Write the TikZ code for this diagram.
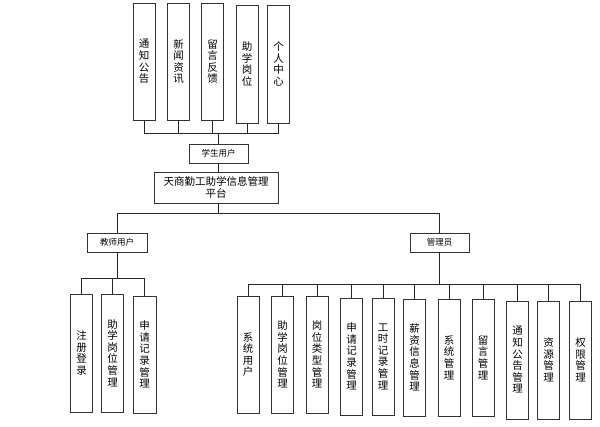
\documentclass[tikz,border=0pt]{standalone}
\usepackage{fontspec}
\newfontfamily\cjk{Noto Sans CJK SC}
\begin{document}
\begin{tikzpicture}[x=1pt,y=-1pt,
  vbox/.style={draw=black!80,line width=0.8pt,minimum width=22pt,minimum height=117pt,inner sep=0pt,align=center,font=\cjk\fontsize{10.5}{11.6}\selectfont},
  hbox/.style={draw=black!80,line width=0.8pt,inner sep=0pt,align=center,font=\cjk\fontsize{8.5}{10}\selectfont},
  conn/.style={draw=black!85,line width=0.8pt}]
\useasboundingbox (0,0) rectangle (600,427);
% top row
\node[vbox] (t1) at (144,61.5) {通\\知\\公\\告};
\node[vbox] (t2) at (178.5,61.5) {新\\闻\\资\\讯};
\node[vbox] (t3) at (212.5,61.5) {留\\言\\反\\馈};
\node[vbox,minimum height=118pt] (t4) at (247,64) {助\\学\\岗\\位};
\node[vbox,minimum height=118pt] (t5) at (278.5,64) {个\\人\\中\\心};
\coordinate (tbar) at (0,133);
\node[hbox,minimum width=59pt,minimum height=19pt] (stu) at (218.5,153.5) {学生用户};
\node[hbox,minimum width=124pt,minimum height=31pt,font=\cjk\fontsize{10.5}{12}\selectfont] (main) at (216,187.5) {天商勤工助学信息管理\\平台};
\node[hbox,minimum width=60pt,minimum height=19pt] (tea) at (117,242.5) {教师用户};
\node[hbox,minimum width=59pt,minimum height=19pt] (adm) at (439.5,242.5) {管理员};
\coordinate (mbar) at (0,213);
% teacher children
\node[vbox,minimum height=118pt] (c1) at (81.5,353) {注\\册\\登\\录};
\node[vbox,minimum height=118pt] (c2) at (112.5,353) {助\\学\\岗\\位\\管\\理};
\node[vbox,minimum width=23pt,minimum height=117pt] (c3) at (144.5,354.5) {申\\请\\记\\录\\管\\理};
\coordinate (cbar) at (0,278);
% admin children
\node[vbox] (a1) at (248,354.5) {系\\统\\用\\户};
\node[vbox] (a2) at (282.5,354.5) {助\\学\\岗\\位\\管\\理};
\node[vbox] (a3) at (317,354.5) {岗\\位\\类\\型\\管\\理};
\node[vbox] (a4) at (351.5,356.5) {申\\请\\记\\录\\管\\理};
\node[vbox] (a5) at (383,356.5) {工\\时\\记\\录\\管\\理};
\node[vbox] (a6) at (414.5,357.5) {薪\\资\\信\\息\\管\\理};
\node[vbox] (a7) at (449,357.5) {系\\统\\管\\理};
\node[vbox] (a8) at (483,357.5) {留\\言\\管\\理};
\node[vbox,minimum height=118pt] (a9) at (517.5,360) {通\\知\\公\\告\\管\\理};
\node[vbox,minimum height=118pt] (a10) at (548.5,360) {资\\源\\管\\理};
\node[vbox,minimum height=118pt] (a11) at (580.5,360) {权\\限\\管\\理};
\coordinate (abar) at (0,284);
% connectors top
\draw[conn] (t1.south) -- (t1.south |- tbar) -- (t5.south |- tbar) -- (t5.south);
\foreach \n in {t2,t3,t4} \draw[conn] (\n.south) -- (\n.south |- tbar);
\draw[conn,line width=1.6pt] (stu.north) -- (stu.north |- tbar);
\draw[conn] (stu.south) -- (stu.south |- main.north);
\draw[conn] (stu.south |- main.south) -- (stu.south |- mbar);
\draw[conn] (tea.north) -- (tea.north |- mbar) -- (adm.north |- mbar) -- (adm.north);
% teacher
\draw[conn] (tea.south) -- (tea.south |- cbar);
\draw[conn] (c1.north) -- (c1.north |- cbar) -- (c3.north |- cbar) -- (c3.north);
\draw[conn] (c2.north) -- (c2.north |- cbar);
% admin
\draw[conn] (adm.south) -- (adm.south |- abar);
\draw[conn] (a1.north) -- (a1.north |- abar) -- (a11.north |- abar) -- (a11.north);
\foreach \n in {a2,a3,a4,a5,a6,a7,a8,a9,a10} \draw[conn] (\n.north) -- (\n.north |- abar);
\end{tikzpicture}
\end{document}
